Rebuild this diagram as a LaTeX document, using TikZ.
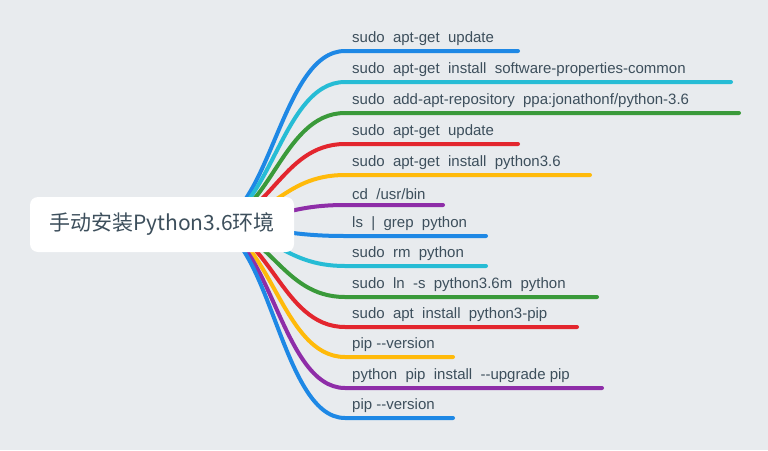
\documentclass[tikz,border=0pt]{standalone}
\usepackage{fontspec}
\setmainfont{Liberation Sans}
\newfontfamily\cjk{Noto Sans CJK SC}
\definecolor{bgc}{HTML}{E8EBEE}
\definecolor{txtc}{HTML}{3D4F5C}
\definecolor{cblue}{HTML}{1E88E5}
\definecolor{ccyan}{HTML}{26BCD5}
\definecolor{cgreen}{HTML}{3A9A3A}
\definecolor{cred}{HTML}{E3262E}
\definecolor{cyellow}{HTML}{FFBA0A}
\definecolor{cpurple}{HTML}{8E2DA8}
\tikzset{
  branch/.style={line width=4pt, line cap=round},
  leaf/.style={anchor=south west, inner sep=1pt, text=txtc, font=\fontsize{15}{17}\selectfont},
  root/.style={fill=white, rounded corners=8pt, minimum width=264pt, minimum height=55pt, text=txtc, font=\cjk\fontsize{21}{24}\selectfont}
}
\begin{document}
\begin{tikzpicture}[x=1pt, y=-1pt]
  \fill[bgc] (0,0) rectangle (768,450);
  \useasboundingbox (0,0) rectangle (768,450);
  \coordinate (hub) at (208,225);
  \foreach \i/\y/\e/\c/\t in {
    1/51/518/cblue/{sudo\ \ apt-get\ \ update},
    2/82/731/ccyan/{sudo\ \ apt-get\ \ install\ \ software-properties-common},
    3/113/739/cgreen/{sudo\ \ add-apt-repository\ \ ppa:jonathonf/python-3.6},
    4/144/518/cred/{sudo\ \ apt-get\ \ update},
    5/175/590/cyellow/{sudo\ \ apt-get\ \ install\ \ python3.6},
    6/205/443/cpurple/{cd\ \ /usr/bin},
    7/236/486/cblue/{ls\ \ |\ \ grep\ \ python},
    8/266/486/ccyan/{sudo\ \ rm\ \ python},
    9/297/597/cgreen/{sudo\ \ ln\ \ -s\ \ python3.6m\ \ python},
    10/327/577/cred/{sudo\ \ apt\ \ install\ \ python3-pip},
    11/357/453/cyellow/{pip -{}-version},
    12/388/602/cpurple/{python\ \ pip\ \ install\ \ -{}-upgrade pip},
    13/418/453/cblue/{pip -{}-version}} {
    \coordinate (s\i) at (345,\y);
    \coordinate (e\i) at (\e,\y);
    \draw[branch, \c] (hub) .. controls (270,225) and (280,\y) .. (s\i) -- (e\i);
    \node[leaf] (l\i) at (351,\y-4) {\t};
  }
  \node[root] (main) at (162,224.5) {手动安装Python3.6环境};
\end{tikzpicture}
\end{document}
